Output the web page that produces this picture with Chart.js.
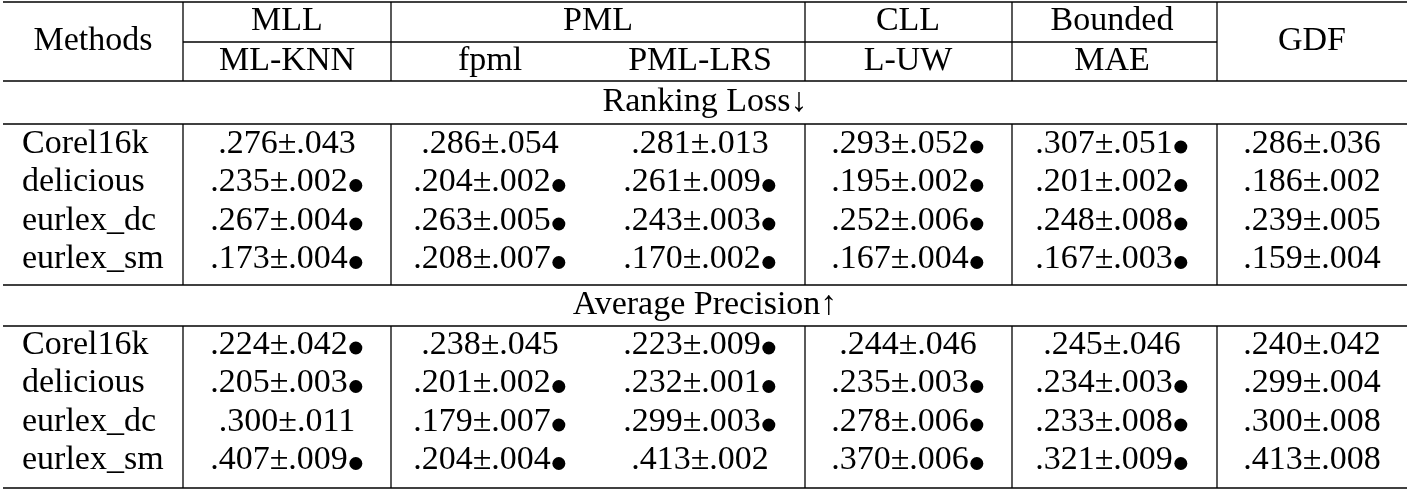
<!DOCTYPE html>
<html><head><meta charset="utf-8">
<script src="https://cdn.jsdelivr.net/npm/chart.js@4"></script>
<style>html,body{margin:0;padding:0;background:#fff}canvas{display:block}</style>
</head><body><canvas id="c" width="1412" height="492"></canvas>
<script>
const groups = ["MLL","PML","CLL","Bounded"];
const methods = ["ML-KNN","fpml","PML-LRS","L-UW","MAE"];
const oursName = "GDF";
const datasets = ["Corel16k","delicious","eurlex_dc","eurlex_sm"];
const sections = ["Ranking Loss↓","Average Precision↑"];
// columns: ML-KNN, fpml, PML-LRS, L-UW, MAE, GDF
const rlMean = [[.276,.286,.281,.293,.307,.286],[.235,.204,.261,.195,.201,.186],[.267,.263,.243,.252,.248,.239],[.173,.208,.170,.167,.167,.159]];
const rlStd  = [[.043,.054,.013,.052,.051,.036],[.002,.002,.009,.002,.002,.002],[.004,.005,.003,.006,.008,.005],[.004,.007,.002,.004,.003,.004]];
const rlSig  = [[0,0,0,1,1,0],[1,1,1,1,1,0],[1,1,1,1,1,0],[1,1,1,1,1,0]];
const apMean = [[.224,.238,.223,.244,.245,.240],[.205,.201,.232,.235,.234,.299],[.300,.179,.299,.278,.233,.300],[.407,.204,.413,.370,.321,.413]];
const apStd  = [[.042,.045,.009,.046,.046,.042],[.003,.002,.001,.003,.003,.004],[.011,.007,.003,.006,.008,.008],[.009,.004,.002,.006,.009,.008]];
const apSig  = [[1,0,1,0,0,0],[1,1,1,1,1,0],[0,1,1,1,1,0],[1,1,0,1,1,0]];

const L = {left:3,right:1407,vx:[183,391,805,1012,1217],top:2,h1:42,h2:81,s1:124,s1end:285,s2:326,bottom:488,
  colX:[93,287,490,700,908,1112,1312],grpX:[287,598,908,1112],hy1:21,hy2:61,rowH:38.5,sec1Y:102,sec2Y:305,r1:144,r2:345};

function fmt(v){return v.toFixed(3).replace(/^0/,'');}
const pts=[];
const tablePlugin={id:'tbl',afterDraw(chart){
  const ctx=chart.ctx, X=chart.scales.x, Y=chart.scales.y;
  const px=v=>X.getPixelForValue(v), py=v=>Y.getPixelForValue(v);
  ctx.save();
  ctx.strokeStyle='#000';ctx.lineWidth=1.3;
  const hl=(y,a,b)=>{ctx.beginPath();ctx.moveTo(px(a),py(y));ctx.lineTo(px(b),py(y));ctx.stroke();};
  const vl=(x,a,b)=>{ctx.beginPath();ctx.moveTo(px(x),py(a));ctx.lineTo(px(x),py(b));ctx.stroke();};
  [L.top,L.h2,L.s1,L.s1end,L.s2,L.bottom].forEach(y=>hl(y,L.left,L.right));
  hl(L.h1,L.vx[0],L.vx[4]);
  L.vx.forEach(x=>{vl(x,L.top,L.h2);vl(x,L.s1,L.s1end);vl(x,L.s2,L.bottom);});
  ctx.fillStyle='#000';ctx.font='34px "Liberation Serif", "DejaVu Serif", serif';
  ctx.textAlign='center';ctx.textBaseline='middle';
  ctx.fillText('Methods',px(L.colX[0]),py((L.hy1+L.hy2)/2));
  groups.forEach((g,i)=>ctx.fillText(g,px(L.grpX[i]),py(L.hy1)));
  methods.forEach((m,i)=>ctx.fillText(m,px(L.colX[i+1]),py(L.hy2)));
  ctx.fillText(oursName,px(L.colX[6]),py((L.hy1+L.hy2)/2));
  ctx.fillText(sections[0],px((L.left+L.right)/2),py(L.sec1Y));
  ctx.fillText(sections[1],px((L.left+L.right)/2),py(L.sec2Y));
  const drawCell=(txt,sig,cx,cy)=>{
    const w=ctx.measureText(txt).width, dw=sig?16:0, x0=cx-(w+dw)/2;
    ctx.textAlign='left';ctx.fillText(txt,x0,cy);
    if(sig){ctx.beginPath();ctx.arc(x0+w+8,cy+3,6.5,0,Math.PI*2);ctx.fill();}
    ctx.textAlign='center';
  };
  const block=(M,S,G,y0)=>{datasets.forEach((d,r)=>{
    const cy=py(y0+r*L.rowH);
    ctx.textAlign='left';ctx.fillText(d,px(22),cy);ctx.textAlign='center';
    M[r].forEach((v,c)=>drawCell(fmt(v)+'±'+fmt(S[r][c]),G[r][c],px(L.colX[c+1]),cy));
  });};
  block(rlMean,rlStd,rlSig,L.r1);
  block(apMean,apStd,apSig,L.r2);
  ctx.restore();
}};
new Chart(document.getElementById('c'),{type:'scatter',
  data:{datasets:[{data:pts,pointRadius:0}]},
  options:{responsive:false,animation:false,devicePixelRatio:1,layout:{padding:0},
    plugins:{legend:{display:false},tooltip:{enabled:false}},
    scales:{x:{type:'linear',min:0,max:1412,display:false},y:{type:'linear',min:0,max:492,reverse:true,display:false}}},
  plugins:[tablePlugin]});
</script></body></html>
